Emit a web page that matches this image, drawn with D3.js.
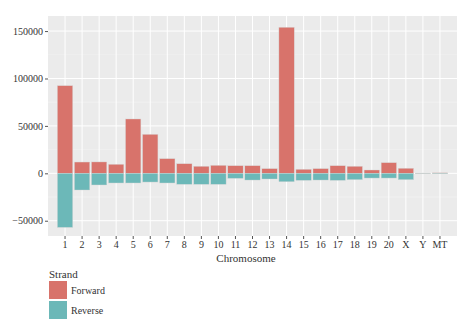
<!DOCTYPE html>
<html>
<head>
<meta charset="utf-8">
<script src="https://cdn.jsdelivr.net/npm/d3@7"></script>
<style>
  body { margin: 0; background: #fff; }
  svg text { font-family: "Liberation Serif", "DejaVu Serif", serif; fill: #333; }
</style>
</head>
<body>
<div id="canvas"></div>
<script>
"use strict"

let svgWidth = 474;
let svgHeight = 336;

// panel edges
let panelLeft = 48;
let panelRight = 457;
let panelTop = 16;
let panelBottom = 236;

/* Data: reads per chromosome and strand */
let chromosomes = ["1", "2", "3", "4", "5", "6", "7", "8", "9", "10", "11", "12",
    "13", "14", "15", "16", "17", "18", "19", "20", "X", "Y", "MT"];
let forward = [92400, 11900, 12000, 9500, 57300, 41100, 15400, 10100, 7400, 8400, 8000, 8000,
    4900, 154000, 4200, 4900, 8000, 7400, 3500, 11200, 5300, 300, 500];
let reverse = [-57000, -17600, -12300, -10200, -10200, -9200, -10200, -11600, -11600, -11600, -5300, -7100,
    -6000, -8900, -7400, -7100, -7400, -6700, -5000, -5000, -6700, -300, -500];
let yTicks = [-50000, 0, 50000, 100000, 150000];
let yMinor = [-25000, 25000, 75000, 125000];
let strands = ["Forward", "Reverse"];
let strandColors = ["#d8736b", "#6cb8b8"];

let svg = d3.select("#canvas")
    .append("svg")
    .attr("width", svgWidth)
    .attr("height", svgHeight);

/* Scales */
let xScale = d3.scaleBand()
    .domain(chromosomes)
    .range([panelLeft, panelRight])
    .paddingInner(0.1)
    .paddingOuter(0.55);

let yScale = d3.scaleLinear()
    .domain([-66100, 165900])
    .range([panelBottom, panelTop]);

let colorScale = d3.scaleOrdinal()
    .domain(strands)
    .range(strandColors);

/* Panel background and grid */
svg.append("rect")
    .attr("x", panelLeft)
    .attr("y", panelTop)
    .attr("width", panelRight - panelLeft)
    .attr("height", panelBottom - panelTop)
    .attr("fill", "#ebebeb");

svg.selectAll("line.minor")
    .data(yMinor)
    .join("line")
    .attr("class", "minor")
    .attr("x1", panelLeft)
    .attr("x2", panelRight)
    .attr("y1", d => yScale(d))
    .attr("y2", d => yScale(d))
    .attr("stroke", "#f5f5f5")
    .attr("stroke-width", 0.5);

svg.selectAll("line.hgrid")
    .data(yTicks)
    .join("line")
    .attr("class", "hgrid")
    .attr("x1", panelLeft)
    .attr("x2", panelRight)
    .attr("y1", d => yScale(d))
    .attr("y2", d => yScale(d))
    .attr("stroke", "#fff")
    .attr("stroke-width", 1);

svg.selectAll("line.vgrid")
    .data(chromosomes)
    .join("line")
    .attr("class", "vgrid")
    .attr("x1", d => xScale(d) + xScale.bandwidth() / 2)
    .attr("x2", d => xScale(d) + xScale.bandwidth() / 2)
    .attr("y1", panelTop)
    .attr("y2", panelBottom)
    .attr("stroke", "#fff")
    .attr("stroke-width", 1);

/* Bars */
let rows = chromosomes.map((c, i) => ({chr: c, fwd: forward[i], rev: reverse[i]}));

svg.selectAll("rect.fwd")
    .data(rows)
    .join("rect")
    .attr("class", "fwd")
    .attr("x", d => xScale(d.chr))
    .attr("width", xScale.bandwidth())
    .attr("y", d => yScale(d.fwd))
    .attr("height", d => yScale(0) - yScale(d.fwd))
    .attr("fill", colorScale("Forward"))
    .attr("stroke", "#d6d6d6")
    .attr("stroke-width", 0.4);

svg.selectAll("rect.rev")
    .data(rows)
    .join("rect")
    .attr("class", "rev")
    .attr("x", d => xScale(d.chr))
    .attr("width", xScale.bandwidth())
    .attr("y", yScale(0))
    .attr("height", d => yScale(d.rev) - yScale(0))
    .attr("fill", colorScale("Reverse"))
    .attr("stroke", "#d6d6d6")
    .attr("stroke-width", 0.4);

/* Axes */
let xAxis = svg.append("g")
    .attr("transform", "translate(0," + panelBottom + ")")
    .call(d3.axisBottom(xScale).tickSize(3).tickPadding(2));

let yAxis = svg.append("g")
    .attr("transform", "translate(" + panelLeft + ",0)")
    .call(d3.axisLeft(yScale).tickValues(yTicks).tickFormat(d3.format("d")).tickSize(3).tickPadding(2));

[xAxis, yAxis].forEach(function (ax) {
    ax.attr("font-family", "Liberation Serif").attr("font-size", 10);
    ax.select(".domain").remove();
    ax.selectAll(".tick line").attr("stroke", "#555");
    ax.selectAll(".tick text")
        .attr("fill", "#444")
        .attr("font-family", "Liberation Serif");
});

/* Axis title */
svg.append("text")
    .attr("x", 246)
    .attr("y", 262)
    .attr("text-anchor", "middle")
    .style("font-size", "11px")
    .text("Chromosome");

/* Legend */
svg.append("text")
    .attr("x", 49)
    .attr("y", 278)
    .style("font-size", "11px")
    .text("Strand");

let legend = svg.selectAll("g.key")
    .data(strands)
    .join("g")
    .attr("class", "key")
    .attr("transform", (d, i) => "translate(49," + (281 + i * 20) + ")");

legend.append("rect")
    .attr("width", 18)
    .attr("height", 18)
    .attr("fill", d => colorScale(d));

legend.append("text")
    .attr("x", 22)
    .attr("y", 13)
    .style("font-size", "10px")
    .text(d => d);
</script>
</body>
</html>
